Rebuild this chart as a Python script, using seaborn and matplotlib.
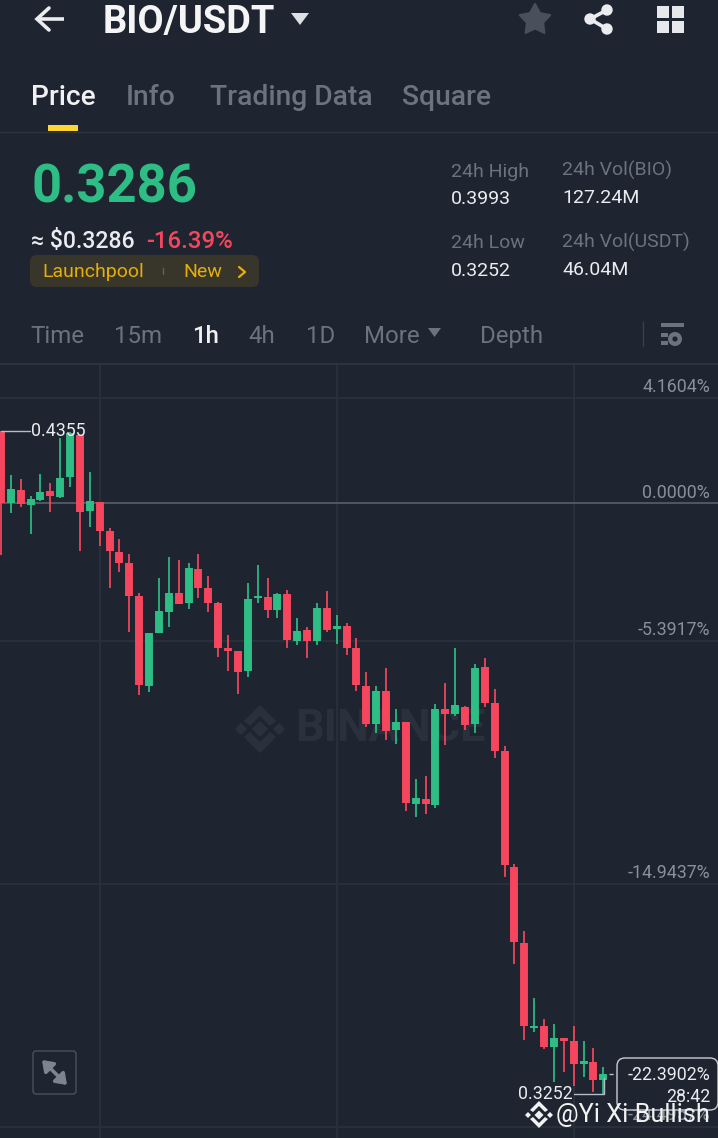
import numpy as np
import pandas as pd
import seaborn as sns
import matplotlib
matplotlib.use("Agg")
import matplotlib.pyplot as plt
from matplotlib.patches import FancyBboxPatch, Polygon, Rectangle, Circle

# ---- data (1h candles, USDT) ----
opens = [.4354,.4235,.4257,.4232,.4240,.4255,.4245,.4279,.4348,.4222,.4237,.4189,.4154,.4136,.4080,.3931,.4018,.4053,.4086,.4068,
         .4125,.4093,.4069,.3994,.3989,.3955,.4077,.4078,.4057,.4084,.4005,.4023,.4005,.4060,.4025,.4030,.3994,.3931,.3868,.3922,
         .3857,.3870,.3735,.3742,.3733,.3893,.3884,.3895,.3867,.3962,.3903,.3822,.3629,.3502,.3361,.3364,.3329,.3345,.3339,.3301,.3304,.3274]
highs = [.4355,.4282,.4275,.4247,.4283,.4268,.4344,.4353,.4348,.4287,.4237,.4193,.4176,.4150,.4085,.4019,.4110,.4145,.4140,.4136,
         .4151,.4113,.4070,.4015,.3989,.4102,.4132,.4111,.4086,.4090,.4044,.4028,.4068,.4088,.4049,.4035,.4010,.3954,.3930,.3961,
         .3893,.3871,.3776,.3780,.3900,.3936,.3993,.3897,.3968,.3977,.3925,.3831,.3634,.3523,.3411,.3376,.3368,.3345,.3365,.3340,.3328,.3296]
lows = [.4149,.4218,.4228,.4184,.4239,.4221,.4243,.4262,.4156,.4196,.4163,.4093,.4120,.4021,.3916,.3920,.4018,.4028,.4067,.4058,
        .4077,.4054,.3979,.3956,.3917,.3946,.4069,.4043,.4043,.3993,.3998,.3977,.3998,.4021,.4000,.3983,.3923,.3863,.3853,.3841,
        .3834,.3722,.3713,.3718,.3728,.3832,.3880,.3857,.3852,.3896,.3811,.3612,.3468,.3341,.3355,.3326,.3271,.3288,.3264,.3280,.3255,.3252]
closes = [.4235,.4258,.4234,.4242,.4253,.4247,.4277,.4351,.4221,.4238,.4189,.4155,.4136,.4081,.3932,.4019,.4055,.4086,.4067,.4127,
          .4093,.4069,.3994,.3988,.3954,.4076,.4080,.4057,.4083,.4007,.4022,.4005,.4060,.4024,.4030,.3994,.3932,.3868,.3923,.3856,
          .3871,.3736,.3744,.3734,.3893,.3884,.3899,.3866,.3961,.3903,.3823,.3633,.3504,.3364,.3364,.3329,.3344,.3339,.3301,.3306,.3274,.3285]
grid_prices = [.4410, .4006, .3601, .3197]
grid_labels = ["4.1604%", "-5.3917%", "-14.9437%", "-24.4957%"]
base_price = .4235
max_label, min_label = "0.4355", "0.3252"

BG = "#1E2530"; GRID = "#2A313C"; RED = "#F6465D"; GREEN = "#2EBD85"
MUTED = "#6B7380"; LIGHT = "#EAECEF"; AXT = "#8A909A"

sns.set_style("dark")
plt.rcParams["font.family"] = ["Roboto", "DejaVu Sans"]
fig = plt.figure(figsize=(7.18, 11.38), dpi=100, facecolor=BG)

def pixel_axes(z):
    a = fig.add_axes([0, 0, 1, 1], zorder=z)
    a.set_xlim(0, 718); a.set_ylim(1138, 0); a.axis("off"); a.patch.set_alpha(0)
    return a

# ---- faint exchange mark, under the candles ----
under = pixel_axes(0)
wm = "#2B313C"
def diamond(target, cx, cy, r, color, z=3):
    target.add_patch(Polygon([(cx, cy - r), (cx + r, cy), (cx, cy + r), (cx - r, cy)], closed=True, color=color, zorder=z, lw=0))
diamond(under, 260, 729, 8, wm); diamond(under, 241, 729, 6, wm); diamond(under, 279, 729, 6, wm)
under.add_patch(Polygon([(260, 705), (276, 721), (270, 726), (260, 716), (250, 726), (244, 721)], color=wm, lw=0))
under.add_patch(Polygon([(260, 753), (276, 737), (270, 732), (260, 742), (250, 732), (244, 737)], color=wm, lw=0))
under.text(295, 729, "BINANCE", fontsize=45 * .72, color=wm, fontweight="bold", va="center", ha="left")

# ---- chart ----
ax = fig.add_axes([0, 0, 1, (1138 - 364) / 1138], zorder=1)
ax.patch.set_alpha(0)
for s in ax.spines.values():
    s.set_visible(False)
ax.grid(False)

df = pd.DataFrame({"i": range(len(opens)), "o": opens, "h": highs, "l": lows, "c": closes})
df["side"] = np.where(df.c >= df.o, "up", "down")
df["top"] = df[["o", "c"]].max(axis=1)
df["bot"] = df[["o", "c"]].min(axis=1)
wicks = df.melt(id_vars=["i", "side"], value_vars=["h", "l"], value_name="price")
bodies = df.melt(id_vars=["i", "side"], value_vars=["top", "bot"], value_name="price")
pal = {"up": GREEN, "down": RED}
sns.lineplot(data=wicks, x="i", y="price", hue="side", units="i", estimator=None, palette=pal,
             linewidth=1.25, legend=False, ax=ax, solid_capstyle="butt", zorder=4)
sns.lineplot(data=bodies, x="i", y="price", hue="side", units="i", estimator=None, palette=pal,
             linewidth=5.7, legend=False, ax=ax, solid_capstyle="butt", zorder=5)

ax.set_xlim(-1 / 9.874, 717 / 9.874)
ax.set_ylim(.4355 - (1138 - 431) * .00016644, .4355 + (431 - 364) * .00016644)
ax.set_xticks([]); ax.set_yticks([])
ax.set_xlabel(""); ax.set_ylabel("")
for p in grid_prices:
    ax.axhline(p, color=GRID, lw=1.3, zorder=1)
ax.axhline(base_price, color="#565C67", lw=1.3, zorder=2)
for xi in [(100 - 1) / 9.874, (337 - 1) / 9.874, (574 - 1) / 9.874]:
    ax.axvline(xi, color=GRID, lw=1.3, zorder=1)

# ---- interface layer in pixels ----
ui = pixel_axes(2)

def T(x, y, s, size, color=LIGHT, ha="left", weight="normal", z=10, **kw):
    return ui.text(x, y, s, fontsize=size * .72, color=color, ha=ha, va="center", fontweight=weight, zorder=z, **kw)

# axis labels
for y, lab in zip([386.5, 629.5, 872.5, 1115.5], grid_labels):
    T(710, y, lab, 17.7, AXT, ha="right", z=6)
T(710, 492.5, "0.0000%", 17.7, AXT, ha="right", z=6)

# high / low callouts
ui.plot([1, 30], [431, 431], color="#B7BDC6", lw=1)
T(31, 430.5, max_label, 17.7, LIGHT)
ui.plot([574, 604, 604], [1094, 1094, 1078], color="#B7BDC6", lw=1, zorder=3)
T(573, 1094, min_label, 17.7, LIGHT, ha="right")
ui.plot([609, 616], [1074, 1074], color="#B7BDC6", lw=1, ls=(0, (3, 2)))

# price tag
ui.add_patch(FancyBboxPatch((617, 1058), 101, 52, boxstyle="round,pad=0,rounding_size=8", fc=BG, ec="#C9CDD3", lw=1, zorder=7, clip_on=False))
T(710, 1074.5, "-22.3902%", 17.7, LIGHT, ha="right")
T(710, 1096.5, "28:42", 17.7, LIGHT, ha="right")

# expand button
ui.add_patch(FancyBboxPatch((33, 1051), 43, 43, boxstyle="round,pad=0,rounding_size=3", fc=BG, ec="#4A515C", lw=1, zorder=6))
ui.annotate("", xy=(42, 1060), xytext=(67, 1085), zorder=7,
            arrowprops=dict(arrowstyle="<|-|>,head_length=0.5,head_width=0.36", color="#7C8490", lw=2.6, mutation_scale=12, shrinkA=0, shrinkB=0))

# bottom credit
W = "#F2F2F2"
diamond(ui, 539, 1115, 4.5, W, z=12); diamond(ui, 528, 1115, 3, W, z=12); diamond(ui, 550, 1115, 3, W, z=12)
ui.add_patch(Polygon([(539, 1101), (548, 1110), (545, 1112), (539, 1106), (533, 1112), (530, 1110)], color=W, lw=0, zorder=12))
ui.add_patch(Polygon([(539, 1128), (548, 1119), (545, 1117), (539, 1123), (533, 1117), (530, 1119)], color=W, lw=0, zorder=12))
T(556, 1115, "@Yi Xi Bullish", 25.3, W, z=12)

# header
ui.plot([37, 64], [19, 19], color=LIGHT, lw=2.6, solid_capstyle="butt")
ui.plot([49, 37, 49], [8, 19, 30], color=LIGHT, lw=2.6, solid_joinstyle="miter")
T(103, 22, "BIO/USDT", 38, "#F5F5F5", weight="bold")
ui.add_patch(Polygon([(291, 13), (309, 13), (300, 25)], color="#DDE0E4", lw=0, zorder=10))
a = np.deg2rad(np.arange(10) * 36 - 90); r = np.where(np.arange(10) % 2 == 0, 16, 8.5)
ui.add_patch(Polygon(np.c_[535 + r * np.cos(a), 20 + r * np.sin(a)], fc="#4A505B", ec="#4A505B", lw=1.5, joinstyle="round", zorder=10))
ui.plot([607, 590, 607], [10, 19, 29], color=LIGHT, lw=2.6)
for cx, cy, rr in [(607, 10, 5.7), (590, 19, 5.7), (607, 29, 5.7)]:
    ui.add_patch(Circle((cx, cy), rr, color=LIGHT, lw=0, zorder=10))
for gx, gy in [(657, 6), (672, 6), (657, 21), (672, 21)]:
    ui.add_patch(Rectangle((gx, gy), 12, 12, color="#E6E8EB", lw=0, zorder=10))

# tabs
T(31, 97, "Price", 28, "#F0F1F3", weight="medium")
for x, s in [(126, "Info"), (210, "Trading Data"), (402, "Square")]:
    T(x, 97, s, 28.2, MUTED, weight="medium")
ui.add_patch(Rectangle((48, 125), 30, 6, color="#FCD535", lw=0, zorder=10))
ui.plot([0, 718], [131.5, 131.5], color="#2E3540", lw=1)

# price block
T(31, 188, "0.3286", 52.5, GREEN, weight="bold")
T(31, 241, "≈ $0.3286", 23, LIGHT, weight="medium")
T(146, 241, "-16.39%", 24, RED, weight="medium")
ui.add_patch(FancyBboxPatch((30, 255), 229, 32, boxstyle="round,pad=0,rounding_size=7", fc="#38352B", ec="none", zorder=9))
T(42, 272, "Launchpool", 19.5, "#E5AE09")
ui.plot([163, 163], [268, 274], color="#6E6435", lw=1, zorder=10)
T(183, 272, "New", 19.5, "#E5AE09")
ui.plot([239, 245, 239], [267, 272, 277], color="#E5AE09", lw=1.6, zorder=10)

T(451, 172, "24h High", 19.5, MUTED)
T(451, 199, "0.3993", 19.5, LIGHT)
T(451, 243, "24h Low", 19.5, MUTED)
T(451, 271, "0.3252", 19.5, LIGHT)
T(562, 170, "24h Vol(BIO)", 19.5, MUTED)
T(562, 198, "127.24M", 19.5, LIGHT)
T(562, 242, "24h Vol(USDT)", 19.5, MUTED)
T(562, 270, "46.04M", 19.5, LIGHT)

# intervals
for x, s, c in [(30, "Time", MUTED), (114, "15m", MUTED), (192, "1h", "#F0F1F3"), (248, "4h", MUTED),
                (306, "1D", MUTED), (364, "More", MUTED), (480, "Depth", MUTED)]:
    T(x, 336, s, 24, c, weight="medium" if s == "1h" else "normal")
ui.add_patch(Polygon([(428, 328), (441, 328), (434.5, 337)], color=MUTED, lw=0, zorder=10))
ui.plot([643, 643], [322, 346], color="#3A414C", lw=1)
ui.add_patch(Rectangle((661, 323), 23, 4, color=MUTED, lw=0, zorder=10))
ui.add_patch(Rectangle((661, 333), 7, 4, color=MUTED, lw=0, zorder=10))
ui.add_patch(Rectangle((661, 341), 7, 4, color=MUTED, lw=0, zorder=10))
ui.add_patch(Circle((675, 339), 7, fc=MUTED, lw=0, zorder=10))
ui.add_patch(Circle((675, 339), 2.6, fc=BG, lw=0, zorder=11))
ui.plot([0, 718], [364, 364], color="#2E3540", lw=1.3)

fig.savefig("out.png", dpi=100, facecolor=BG)
